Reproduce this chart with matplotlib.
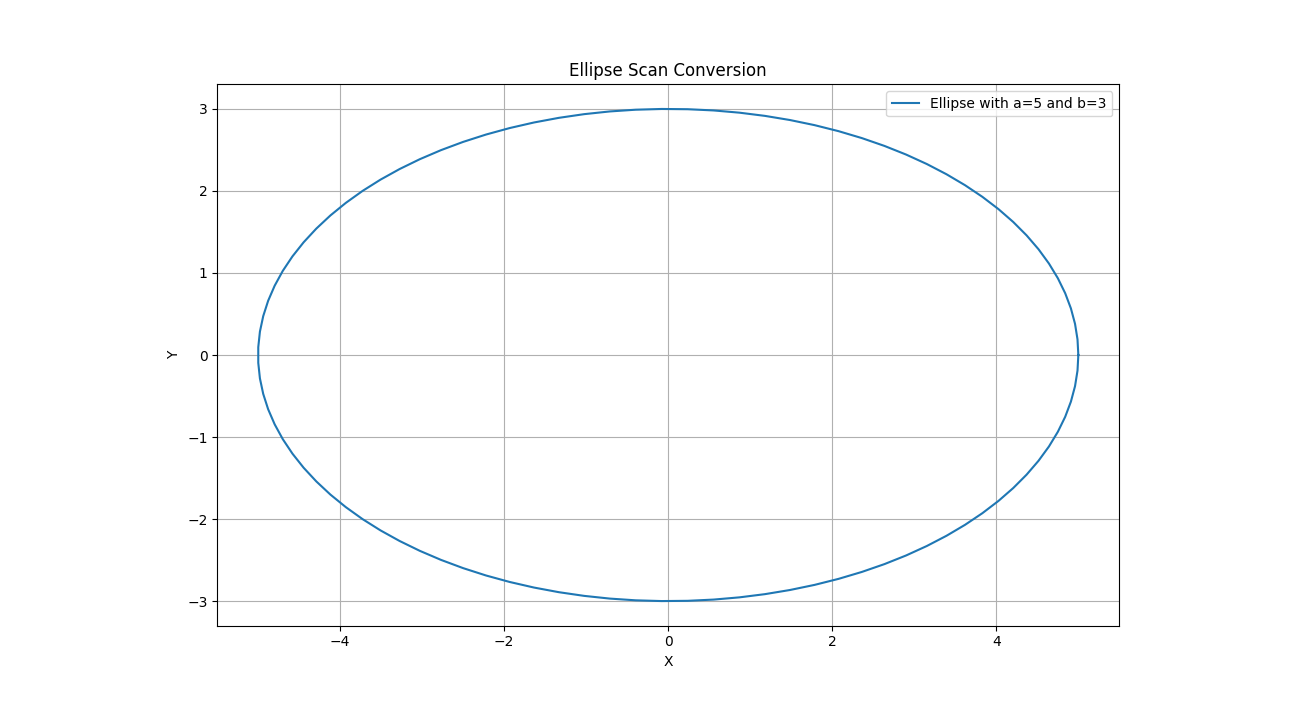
import matplotlib
matplotlib.use("Agg")
import matplotlib.pyplot as plt
import numpy as np

# ellipse semi-axes
a = 5
b = 3
n_points = 100

theta = np.linspace(0, 2 * np.pi, n_points)
x = a * np.cos(theta)
y = b * np.sin(theta)

fig = plt.figure(figsize=(13.04, 7.03), dpi=100)
plt.plot(x, y, label=f"Ellipse with a={a} and b={b}")
plt.title("Ellipse Scan Conversion")
plt.xlabel("X")
plt.ylabel("Y")
plt.grid(True)
plt.legend()
plt.gca().set_aspect("equal")
plt.savefig("out.png", dpi=100)
